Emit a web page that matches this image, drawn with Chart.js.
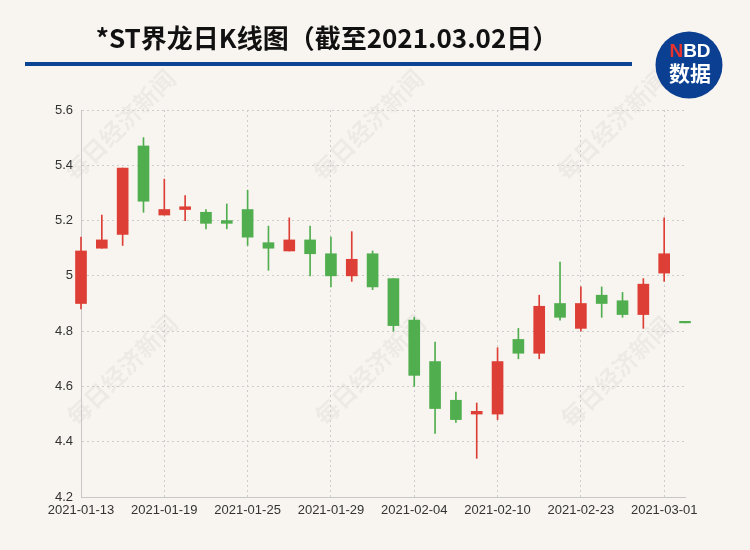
<!DOCTYPE html>
<html>
<head>
<meta charset="utf-8">
<script src="https://cdn.jsdelivr.net/npm/chart.js@4/dist/chart.umd.min.js"></script>
<style>
  html, body { margin: 0; padding: 0; background: #f8f5f0; }
  #kChart { display: block; }
</style>
</head>
<body>
<canvas id="kChart" width="750" height="550"></canvas>
<script>
// trading days shown on the x axis
var dates = [
  "2021-01-13", "2021-01-14", "2021-01-15", "2021-01-18", "2021-01-19",
  "2021-01-20", "2021-01-21", "2021-01-22", "2021-01-25", "2021-01-26",
  "2021-01-27", "2021-01-28", "2021-01-29", "2021-02-01", "2021-02-02",
  "2021-02-03", "2021-02-04", "2021-02-05", "2021-02-08", "2021-02-09",
  "2021-02-10", "2021-02-18", "2021-02-19", "2021-02-22", "2021-02-23",
  "2021-02-24", "2021-02-25", "2021-02-26", "2021-03-01", "2021-03-02"
];
var openPrices = [4.90, 5.10, 5.15, 5.47, 5.22, 5.24, 5.23, 5.20, 5.24, 5.12,
  5.09, 5.13, 5.08, 5.00, 5.08, 4.99, 4.84, 4.69, 4.55, 4.50,
  4.50, 4.77, 4.72, 4.90, 4.81, 4.93, 4.91, 4.86, 5.01, 4.83];
var closePrices = [5.09, 5.13, 5.39, 5.27, 5.24, 5.25, 5.19, 5.19, 5.14, 5.10,
  5.13, 5.08, 5.00, 5.06, 4.96, 4.82, 4.64, 4.52, 4.48, 4.51,
  4.69, 4.72, 4.89, 4.85, 4.90, 4.90, 4.86, 4.97, 5.08, 4.83];
var highPrices = [5.14, 5.22, 5.39, 5.50, 5.35, 5.29, 5.24, 5.26, 5.31, 5.18,
  5.21, 5.18, 5.14, 5.16, 5.09, 4.99, 4.85, 4.76, 4.58, 4.54,
  4.74, 4.81, 4.93, 5.05, 4.96, 4.96, 4.94, 4.99, 5.21, 4.83];
var lowPrices = [4.88, 5.10, 5.11, 5.23, 5.22, 5.20, 5.17, 5.17, 5.11, 5.02,
  5.09, 5.00, 4.96, 4.98, 4.95, 4.80, 4.60, 4.43, 4.47, 4.34,
  4.48, 4.70, 4.70, 4.84, 4.80, 4.85, 4.85, 4.81, 4.98, 4.83];
var yTicks = [4.2, 4.4, 4.6, 4.8, 5, 5.2, 5.4, 5.6];

var titleText = "*ST界龙日K线图（截至2021.03.02日）";
var watermarkText = "每日经济新闻";

var upColor = "#dd3e35";
var downColor = "#51ae4f";

// red when the close is above the open, green otherwise
var candleColors = openPrices.map(function (o, i) {
  return closePrices[i] > o ? upColor : downColor;
});
var bodyData = openPrices.map(function (o, i) {
  return [o, closePrices[i]];
});
var wickData = lowPrices.map(function (l, i) {
  return [l, highPrices[i]];
});

// background, watermark, title, blue rule and logo
var decorPlugin = {
  id: "decor",
  beforeDraw: function (chart) {
    var ctx = chart.ctx;
    ctx.save();
    ctx.fillStyle = "#f8f5f0";
    ctx.fillRect(0, 0, chart.width, chart.height);

    ctx.fillStyle = "rgba(0, 0, 0, 0.045)";
    ctx.font = 'bold 24px "Noto Sans CJK SC"';
    ctx.textAlign = "center";
    ctx.textBaseline = "middle";
    [[120, 125], [368, 125], [612, 125], [122, 370], [370, 370], [616, 372]].forEach(function (p) {
      ctx.save();
      ctx.translate(p[0], p[1]);
      ctx.rotate(-Math.PI / 4);
      ctx.fillText(watermarkText, 0, 0);
      ctx.restore();
    });
    ctx.restore();
  },
  afterDraw: function (chart) {
    var ctx = chart.ctx;
    ctx.save();
    ctx.fillStyle = "#111";
    ctx.font = 'bold 26px "Noto Sans CJK SC"';
    ctx.textAlign = "center";
    ctx.textBaseline = "middle";
    ctx.fillText(titleText, 327, 38);

    ctx.fillStyle = "#0a4595";
    ctx.fillRect(25, 62, 607, 4);

    ctx.beginPath();
    ctx.arc(689, 65, 33.5, 0, Math.PI * 2);
    ctx.fillStyle = "#0b3f91";
    ctx.fill();

    ctx.font = 'bold 19px "Liberation Sans"';
    ctx.textAlign = "left";
    var nW = ctx.measureText("N").width;
    var bdW = ctx.measureText("BD").width;
    var startX = 690 - (nW + bdW) / 2;
    ctx.fillStyle = "#e8322d";
    ctx.fillText("N", startX, 52);
    ctx.fillStyle = "#fff";
    ctx.fillText("BD", startX + nW, 52);
    ctx.textAlign = "center";
    ctx.font = 'bold 21px "Noto Sans CJK SC"';
    ctx.fillText("数据", 690, 73);
    ctx.restore();
  }
};

var ctx = document.getElementById("kChart").getContext("2d");
new Chart(ctx, {
  type: "bar",
  data: {
    labels: dates,
    datasets: [
      {
        label: "wick",
        data: wickData,
        backgroundColor: candleColors,
        barThickness: 1,
        grouped: false,
        clip: false,
        order: 2
      },
      {
        label: "body",
        data: bodyData,
        backgroundColor: candleColors,
        barThickness: 11,
        minBarLength: 1.5,
        grouped: false,
        clip: false,
        order: 1
      }
    ]
  },
  options: {
    responsive: false,
    animation: false,
    layout: { padding: { top: 110, right: 65, bottom: 0, left: 0 } },
    plugins: {
      legend: { display: false },
      tooltip: { enabled: false }
    },
    scales: {
      x: {
        type: "category",
        offset: false,
        grid: {
          offset: false,
          drawTicks: false,
          color: function (c) {
            return c.index % 4 === 0 && c.index > 0 ? "#cccccc" : "rgba(0,0,0,0)";
          }
        },
        border: { color: "#c8c8c8", dash: [2, 3] },
        ticks: {
          autoSkip: false,
          maxRotation: 0,
          padding: 6,
          color: "#333",
          font: { family: "Liberation Sans", size: 13 },
          callback: function (value, index) {
            return index % 4 === 0 ? dates[index] : "";
          }
        },
        afterFit: function (scale) {
          scale.height = 53;
        }
      },
      y: {
        min: 4.2,
        max: 5.6,
        afterBuildTicks: function (scale) {
          scale.ticks = yTicks.map(function (v) { return { value: v }; });
        },
        grid: { drawTicks: false, color: "#cccccc" },
        border: { color: "#c8c8c8", dash: [2, 3] },
        ticks: {
          padding: 8,
          color: "#333",
          font: { family: "Liberation Sans", size: 13 },
          callback: function (value) {
            return String(Math.round(value * 10) / 10);
          }
        },
        afterFit: function (scale) {
          scale.width = 81;
        }
      }
    }
  },
  plugins: [decorPlugin]
});
</script>
</body>
</html>
